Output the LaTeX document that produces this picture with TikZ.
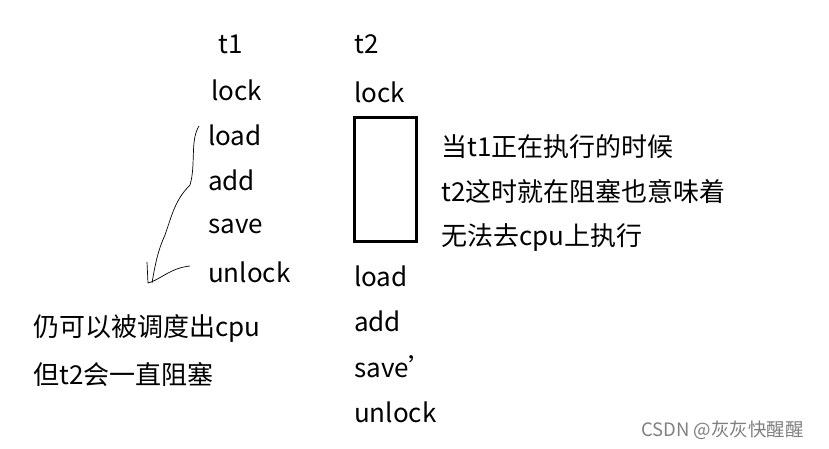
\documentclass[tikz,border=0pt]{standalone}
\usepackage{fontspec}
\setmainfont{Noto Sans CJK SC}
\begin{document}
\begin{tikzpicture}[x=1pt,y=-1pt,
  lbl/.style={anchor=west,inner sep=0pt,font=\fontsize{26}{26}\selectfont},
  wm/.style={anchor=west,inner sep=0pt,text=gray,font=\fontsize{18.5}{18.5}\selectfont}]
\useasboundingbox (0,0) rectangle (829,448);
\node[lbl] (a1) at (218,44) {t1};
\node[lbl] (a2) at (211,90) {lock};
\node[lbl] (a3) at (208,135) {load};
\node[lbl] (a4) at (208,180) {add};
\node[lbl] (a5) at (208,226) {save};
\node[lbl] (a6) at (208,272) {unlock};
\node[lbl] (b1) at (354,44) {t2};
\node[lbl] (b2) at (354,92) {lock};
\node[draw,line width=3pt,minimum width=62,minimum height=124,inner sep=0pt] (box) at (385,179) {};
\node[lbl] (b3) at (354,276) {load};
\node[lbl] (b4) at (354,321) {add};
\node[lbl] (b5) at (354,367) {save\symbol{39}};
\node[lbl] (b6) at (354,412) {unlock};
\node[lbl] (c1) at (441,147) {当t1正在执行的时候};
\node[lbl] (c2) at (441,192) {t2这时就在阻塞也意味着};
\node[lbl] (c3) at (441,238) {无法去cpu上执行};
\node[lbl] (d1) at (33,328) {仍可以被调度出cpu};
\node[lbl] (d2) at (33,375) {但t2会一直阻塞};
\node[wm] (w) at (641,430) {CSDN @灰灰快醒醒};
\draw[line width=0.7pt] (199,126) .. controls (190,140) and (196,165) .. (190,185)
  .. controls (175,200) and (172,215) .. (165,235) .. controls (158,250) and (155,265) .. (152,283);
\draw[line width=0.7pt] (147,262) -- (148,283) .. controls (160,280) and (170,268) .. (190,266);
\end{tikzpicture}
\end{document}
